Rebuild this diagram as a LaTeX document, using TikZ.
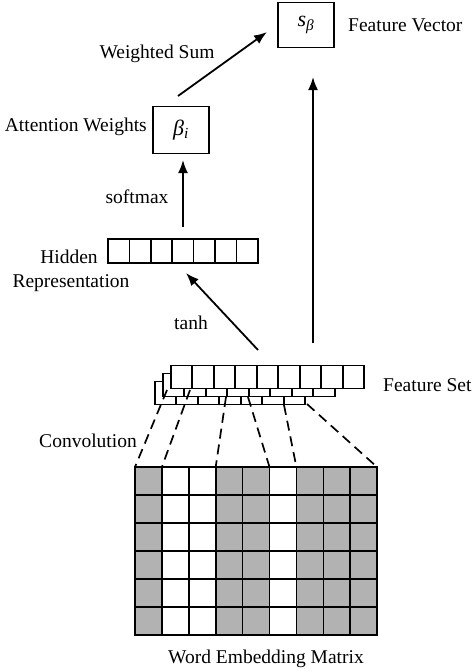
\documentclass[tikz,border=0pt]{standalone}
\usepackage{fontspec}
\setmainfont{Liberation Serif}
\usetikzlibrary{arrows.meta}
\definecolor{mgray}{gray}{0.7}
\tikzset{
	lbl/.style={font=\fontsize{19.5}{22}\selectfont, inner sep=0pt},
	vec/.style={draw, line width=1.6pt, minimum width=56pt, minimum height=45pt, font=\fontsize{22}{24}\selectfont},
	cell/.style={draw, line width=1.6pt, fill=white},
	conn/.style={line width=1.8pt, -{Latex[length=13pt,width=10pt]}},
	conv/.style={line width=1.7pt, dash pattern=on 10pt off 6pt},
}

\begin{document}
\begin{tikzpicture}[x=1pt,y=-1pt]
		\useasboundingbox (0,0) rectangle (474,669);
		\node[vec] (sb) at (306,25) {\textit{s}\textsubscript{\textit{β}}};
		\node[vec, minimum height=47pt] (bi) at (181,130) {\textit{β}\textsubscript{\textit{i}}};
		\node[lbl, anchor=base west] (fv) at (348,32) {Feature Vector};
		\node[lbl, anchor=base] (ws) at (157,59) {Weighted Sum};
		\node[lbl, anchor=base east] (aw) at (147,131) {Attention Weights};
		\node[lbl, anchor=base] (sm) at (137,203) {softmax};
		\node[lbl, anchor=base] (hd) at (69,263) {Hidden};
		\node[lbl, anchor=base] (rp) at (71,287) {Representation};
		\node[lbl, anchor=base] (th) at (191,329) {tanh};
		\node[lbl, anchor=base] (cv) at (88,447) {Convolution};
		\node[lbl, anchor=base west] (fs) at (383,391) {Feature Set};
		\node[lbl, anchor=base] (wm) at (266,663) {Word Embedding Matrix};
		\foreach \i in {0,...,6}
			\draw[cell] (108+\i*21.4,239) rectangle ++(21.4,24);
		\foreach \k/\n in {2/6,1/7,0/8}
			\foreach \i in {0,...,\n}
				\draw[cell] (170.7-8*\k+\i*21.5,365.5+8*\k) rectangle ++(21.5,23);
		\foreach \c/\f in {0/mgray,1/white,2/white,3/mgray,4/mgray,5/white,6/mgray,7/mgray,8/mgray}
			\foreach \r in {0,...,5}
				\draw[cell, fill=\f] (135+\c*26.9,467+\r*28) rectangle ++(26.9,28);
		\coordinate (c1) at (167,390);
		\coordinate (c2) at (190,390);
		\coordinate (c3) at (226,397);
		\coordinate (c4) at (248,397);
		\coordinate (c5) at (284,405);
		\coordinate (c6) at (307,404);
		\coordinate (m1) at (135,467);
		\coordinate (m2) at (161.9,467);
		\coordinate (m3) at (215.7,467);
		\coordinate (m4) at (269.5,467);
		\coordinate (m5) at (296.4,467);
		\coordinate (m6) at (377,467);
		\foreach \j in {1,...,6}
			\draw[conv] (c\j) -- (m\j);
		\coordinate (t0) at (258,350);
		\coordinate (t1) at (186,273);
		\coordinate (h0) at (183,227);
		\coordinate (h1) at (183,160);
		\coordinate (w0) at (178,96);
		\coordinate (w1) at (267,32);
		\coordinate (f0) at (313,343);
		\coordinate (f1) at (313,77);
		\draw[conn] (t0) -- (t1);
		\draw[conn] (h0) -- (h1);
		\draw[conn] (w0) -- (w1);
		\draw[conn] (f0) -- (f1);
	\end{tikzpicture}
\end{document}
